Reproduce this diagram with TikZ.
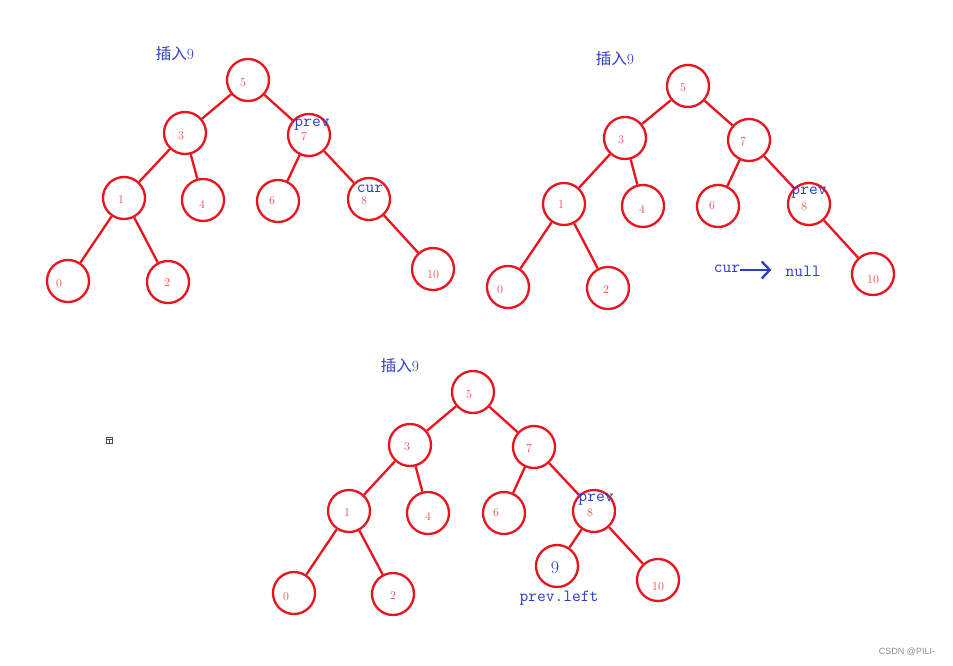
\documentclass[tikz,border=0pt]{standalone}
\usepackage{fontspec}
\newfontfamily\cjkfont{Noto Sans CJK SC}
\newfontfamily\wmfont{Liberation Sans}
\usetikzlibrary{arrows.meta,calc}
\definecolor{cred}{HTML}{E8141E}
\definecolor{nred}{HTML}{F04A4A}
\definecolor{cblue}{HTML}{2B3BCC}
\tikzset{
  circ/.style={circle,draw=cred,line width=2.3pt,minimum size=42pt,inner sep=0pt},
  edge/.style={draw=cred,line width=2.3pt},
  num/.style={text=nred,font=\fontsize{12}{12}\selectfont,inner sep=0pt},
  ptr/.style={text=cblue,font=\fontsize{17}{17}\selectfont\ttfamily,inner sep=0pt},
  title/.style={text=cblue,font=\fontsize{15.5}{15.5}\selectfont,inner sep=0pt},
}
\newcommand{\tnode}[6]{\node[circ] (#1) at (#2,#3) {}; \node[num] (#1t) at (#4,#5) {#6};}
\begin{document}
\begin{tikzpicture}[x=1pt,y=-1pt]
\useasboundingbox[fill=white] (0,0) rectangle (953,666);
% ---------- tree 1 ----------
\tnode{a5}{248}{80}{243}{83}{5}
\tnode{a3}{185}{133}{181}{136}{3}
\tnode{a7}{309}{135}{304}{137}{7}
\tnode{a1}{124}{198}{121}{200}{1}
\tnode{a4}{203}{200}{202}{204}{4}
\tnode{a6}{278}{201}{272}{201}{6}
\tnode{a8}{369}{199}{364}{201}{8}
\tnode{a0}{68}{281}{59}{284}{0}
\tnode{a2}{168}{282}{167}{283}{2}
\tnode{a10}{433}{269}{433}{275}{10}
\foreach \p/\c in {a5/a3,a5/a7,a3/a1,a3/a4,a7/a6,a7/a8,a1/a0,a1/a2,a8/a10}
  \draw[edge] (\p) -- (\c);
\node[title] (t1) at (175,54) {{\cjkfont 插入}9};
\node[ptr] (p1) at (312,125) {prev};
\node[ptr] (c1) at (370,189) {cur};
% ---------- tree 2 ----------
\tnode{b5}{688}{86}{683}{88}{5}
\tnode{b3}{625}{138}{621}{140}{3}
\tnode{b7}{749}{140}{743}{142}{7}
\tnode{b1}{564}{204}{561}{205}{1}
\tnode{b4}{643}{206}{642}{209}{4}
\tnode{b6}{718}{206}{712}{206}{6}
\tnode{b8}{809}{204}{804}{207}{8}
\tnode{b0}{508}{287}{500}{290}{0}
\tnode{b2}{608}{288}{606}{290}{2}
\tnode{b10}{873}{274}{873}{280}{10}
\foreach \p/\c in {b5/b3,b5/b7,b3/b1,b3/b4,b7/b6,b7/b8,b1/b0,b1/b2,b8/b10}
  \draw[edge] (\p) -- (\c);
\node[title] (t2) at (615,59) {{\cjkfont 插入}9};
\node[ptr] (p2) at (809,193) {prev};
\node[ptr] (c2) at (727,269) {cur};
\node[ptr] (n2) at (803,271) {null};
\draw[draw=cblue,line width=2.3pt,-{Straight Barb[length=8pt,width=17pt,line width=2.3pt]}] (c2.east) ++(0,1) coordinate (ca) -- ++(31,0) coordinate (cb);
% ---------- tree 3 ----------
\tnode{c5}{473}{392}{469}{395}{5}
\tnode{c3}{410}{445}{407}{447}{3}
\tnode{c7}{534}{447}{529}{449}{7}
\tnode{c1}{349}{511}{347}{513}{1}
\tnode{c4}{428}{513}{428}{516}{4}
\tnode{c6}{504}{513}{496}{513}{6}
\tnode{c8}{594}{511}{590}{513}{8}
\tnode{c0}{294}{593}{286}{597}{0}
\tnode{c2}{393}{594}{393}{596}{2}
\tnode{c10}{658}{580}{658}{587}{10}
\node[circ] (c9) at (557,566) {};
\node[text=cblue,font=\fontsize{18}{18}\selectfont,inner sep=0pt] (c9t) at (555,568) {9};
\foreach \p/\c in {c5/c3,c5/c7,c3/c1,c3/c4,c7/c6,c7/c8,c1/c0,c1/c2,c8/c10,c8/c9}
  \draw[edge] (\p) -- (\c);
\node[title] (t3) at (400,366) {{\cjkfont 插入}9};
\node[ptr] (p3) at (596,500) {prev};
\node[ptr] (pl3) at (559,598) {prev.left};
% ---------- small icon ----------
\draw[draw=black!70,line width=0.8pt] (106,437) rectangle (112,443);
\draw[draw=black!70,line width=0.8pt] (106,439) -- (112,439) (109,439) -- (109,443);
% ---------- watermark ----------
\node[text=black!45,font=\wmfont\fontsize{9}{9}\selectfont,inner sep=0pt] (wm) at (907,652) {CSDN @PILI-};
\end{tikzpicture}
\end{document}
